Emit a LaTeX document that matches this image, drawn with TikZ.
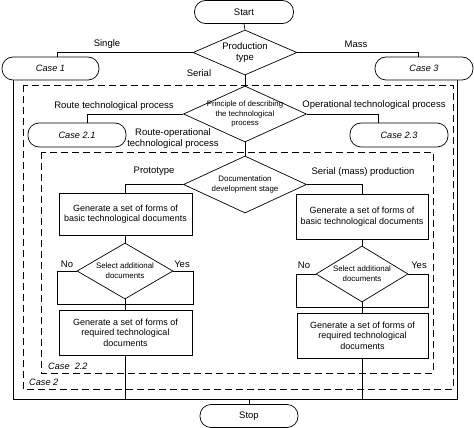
\documentclass[tikz,border=0pt]{standalone}
\usepackage{fontspec}
\setmainfont{Liberation Sans}
\usetikzlibrary{shapes.geometric,calc}
\begin{document}
\begin{tikzpicture}[x=1pt,y=-1pt,
  line/.style={line width=0.7pt},
  term/.style={draw,line width=0.7pt,rectangle,rounded corners=11pt,minimum width=99pt,minimum height=23pt,inner sep=0pt,font=\fontsize{9.5}{11}\selectfont},
  casebox/.style={term,font=\fontsize{9.2}{11}\selectfont\itshape},
  dia/.style={draw,line width=0.7pt,diamond,inner sep=0pt},
  procbox/.style={draw,line width=0.7pt,rectangle,inner sep=0pt,align=center,font=\fontsize{9}{10.5}\selectfont},
  lbl/.style={inner sep=0pt,font=\fontsize{9.5}{11}\selectfont,align=center},
  small/.style={inner sep=0pt,align=center,font=\fontsize{7.8}{9.8}\selectfont},
  frame/.style={draw,line width=0.7pt,dash pattern=on 7pt off 4pt},
  caselbl/.style={inner sep=0pt,anchor=west,font=\fontsize{9.2}{11}\selectfont\itshape}
]
\useasboundingbox (0,0) rectangle (474,428);

% dashed frames
\draw[frame] (23,85) rectangle (453,389);
\draw[frame] (41,152) rectangle (433,373);
\node[caselbl] (lc2) at (29,382) {Case 2};
\node[caselbl] (lc22) at (48,366) {Case\ \ 2.2};

% terminals
\node[term] (start) at (244,12) {Start};
\node[term,minimum width=98pt] (stop) at (249,416) {Stop};

% cases
\node[casebox,minimum width=97pt] (c1) at (50.5,68.5) {Case 1};
\node[casebox,minimum width=98pt] (c3) at (424,68.5) {Case 3};
\node[casebox,minimum width=98pt,minimum height=24pt] (c21) at (77,135) {Case 2.1};
\node[casebox,minimum width=98pt,minimum height=24pt] (c23) at (399,135) {Case 2.3};

% diamonds
\node[dia,minimum width=104pt,minimum height=45pt] (prod) at (245,52.5) {};
\node[lbl] (prodt) at (prod) {Production\\type};
\node[dia,minimum width=123pt,minimum height=56pt] (princ) at (245,114) {};
\node[small] (princt) at (princ) {Principle of describing\\the technological\\process};
\node[dia,minimum width=123pt,minimum height=57pt] (doc) at (245,184.5) {};
\node[small,font=\fontsize{7.9}{9.5}\selectfont] (doct) at (doc) {Documentation\\development stage};
\node[dia,minimum width=96pt,minimum height=56pt] (selL) at (125,271) {};
\node[small,font=\fontsize{7.9}{10}\selectfont] (selLt) at (selL) {Select additional\\documents};
\node[dia,minimum width=92pt,minimum height=56pt] (selR) at (362,274) {};
\node[small,font=\fontsize{7.9}{10}\selectfont] (selRt) at (selR) {Select additional\\documents};

% process boxes
\node[procbox,minimum width=133pt,minimum height=42pt] (b1L) at (125.5,214) {Generate a set of forms of\\basic technological documents};
\node[procbox,minimum width=132pt,minimum height=45pt] (b1R) at (362,216.5) {Generate a set of forms of\\basic technological documents};
\node[procbox,minimum width=133pt,minimum height=45pt] (b2L) at (125.5,332.5) {Generate a set of forms of\\required technological\\documents};
\node[procbox,minimum width=131pt,minimum height=45pt] (b2R) at (362.5,335.5) {Generate a set of forms of\\required technological\\documents};

% labels
\node[lbl] (lsingle) at (107,44) {Single};
\node[lbl] (lmass) at (356,44) {Mass};
\node[lbl] (lserial) at (199,73) {Serial};
\node[lbl] (lroute) at (114,106) {Route technological process};
\node[lbl] (loper) at (374,105) {Operational technological process};
\node[lbl] (lrouteop) at (173,138.5) {Route-operational\\technological process};
\node[lbl] (lproto) at (154,171) {Prototype};
\node[lbl] (lserm) at (363,172) {Serial (mass) production};
\node[lbl] (lnoL) at (67,264) {No};
\node[lbl] (lyesL) at (182,264) {Yes};
\node[lbl] (lnoR) at (304,265) {No};
\node[lbl] (lyesR) at (419,265) {Yes};

% coordinates
\coordinate (br) at (457,399);
\coordinate (lLb) at (57,304);
\coordinate (lRb) at (193,304);
\coordinate (rLb) at (296,307);
\coordinate (rRb) at (428,307);

% connectors
\draw[line] (start.south) -- (prod.north);
\draw[line] (prod.west) -| ($(c1.north)+(6.5,0)$);
\draw[line] (prod.east) -| ($(c3.north)+(-6,0)$);
\draw[line] (prod.south) -- (princ.north);
\draw[line] (princ.west) -| ($(c21.north)+(10,0)$);
\draw[line] (princ.east) -| ($(c23.north)+(-21,0)$);
\draw[line] (princ.south) -- (doc.north);
\draw[line] (doc.west) -| (b1L.north);
\draw[line] (doc.east) -| (b1R.north);
\draw[line] (b1L.south) -- (b1L.south |- selL.north);
\draw[line] (b1R.south) -- (selR.north);
\draw[line] (selL.west) -| (lLb) -- (lRb) |- (selL.east);
\draw[line] (selR.west) -| (rLb) -- (rRb) |- (selR.east);
\draw[line] (selL.south) -- (selL.south |- b2L.north);
\draw[line] (selR.south) -- (selR.south |- b2R.north);
\draw[line] ($(c1.south)+(-37.5,0)$) |- (br) -- ($(c3.south)+(33,0)$);
\draw[line] (b2L.south) -- (b2L.south |- br);
\draw[line] (b2R.south) -- (b2R.south |- br);
\draw[line] (stop.north) -- (stop.north |- br);
\end{tikzpicture}
\end{document}
